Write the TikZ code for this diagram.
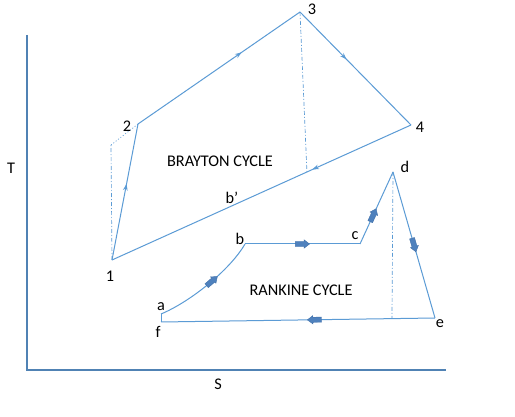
\documentclass[tikz,border=0pt]{standalone}
\usepackage{fontspec}
\setmainfont{Carlito}
\usetikzlibrary{arrows.meta,decorations.markings,calc}
\definecolor{cyc}{RGB}{91,155,213}
\definecolor{axc}{RGB}{80,130,180}
\definecolor{afill}{RGB}{79,129,189}
\definecolor{aline}{RGB}{65,113,170}
\tikzset{
  cycleline/.style={draw=cyc,line width=0.75pt},
  axisline/.style={draw=axc,line width=0.9pt},
  dashdot/.style={draw=cyc,line width=0.5pt,dash pattern=on 3pt off 1.5pt on 0.75pt off 1.5pt},
  dotline/.style={draw=cyc,line width=0.5pt,dash pattern=on 0.75pt off 1.5pt},
  smallarr/.style={postaction={decorate,decoration={markings,
      mark=at position #1 with {\arrow[cyc]{Stealth[length=5pt,width=3.5pt]}}}}},
  blockarr/.style={postaction={decorate,decoration={markings,
      mark=at position #1 with {\filldraw[fill=afill,draw=aline,line width=0.3pt]
        (-5.3pt,-1.9pt) -- (1.2pt,-1.9pt) -- (1.2pt,-3.1pt) -- (5.3pt,0pt) --
        (1.2pt,3.1pt) -- (1.2pt,1.9pt) -- (-5.3pt,1.9pt) -- cycle;}}}},
  lbl/.style={inner sep=0pt,font=\fontsize{12.2pt}{14pt}\selectfont,text=black},
}
\begin{document}
\begin{tikzpicture}[x=0.75pt,y=-0.75pt]
  \useasboundingbox[fill=white] (0,0) rectangle (515,417);
  % axes
  \coordinate (o) at (27,370);
  \coordinate (ytop) at (27,35);
  \coordinate (xend) at (446,370);
  \draw[axisline] (ytop) -- (o) -- (xend);
  \node[lbl] (T) at (11,168) {T};
  \node[lbl] (S) at (218,384) {S};
  % Brayton points
  \coordinate (p1) at (112,260);
  \coordinate (p2) at (138,124);
  \coordinate (p3) at (300,12);
  \coordinate (p4) at (411,125);
  \coordinate (q) at (111,145);
  \coordinate (bp) at ($(p4)!0.348!(p1)$);
  \draw[cycleline,smallarr=0.56] (p1) -- (p2);
  \draw[cycleline,smallarr=0.64] (p2) -- (p3);
  \draw[cycleline,smallarr=0.42] (p3) -- (p4);
  \draw[cycleline,smallarr=0.33] (p4) -- (p1);
  \draw[dashdot] (p1) -- (q);
  \draw[dotline] (q) -- (p2);
  \draw[dashdot] (p3) -- (bp);
  \node[lbl] (l1) at (110,276) {1};
  \node[lbl] (l2) at (127,126) {2};
  \node[lbl] (l3) at (312,9) {3};
  \node[lbl] (l4) at (420,127) {4};
  \node[lbl] (lbp) at (232,198) {b’};
  \node[lbl] (bray) at (220,161) {BRAYTON CYCLE};
  % Rankine points
  \coordinate (a) at (161,314);
  \coordinate (b) at (245,244);
  \coordinate (c) at (360,244);
  \coordinate (d) at (393,172);
  \coordinate (e) at (435,318);
  \coordinate (f) at (161,322);
  \coordinate (dd) at ($(e)!0.157!(f)$);
  \draw[cycleline,blockarr=0.55] (a) .. controls (190,302) and (230,270) .. (b);
  \draw[cycleline,blockarr=0.5] (b) -- (c);
  \draw[cycleline,blockarr=0.4] (c) -- (d);
  \draw[cycleline,blockarr=0.5] (d) -- (e);
  \draw[cycleline,blockarr=0.44] (e) -- (f);
  \draw[cycleline] (f) -- (a);
  \draw[dashdot] (d) -- (dd);
  \node[lbl] (la) at (161,307) {a};
  \node[lbl] (lb) at (240,239) {b};
  \node[lbl] (lc) at (355,236) {c};
  \node[lbl] (ld) at (405,167) {d};
  \node[lbl] (le) at (440,324) {e};
  \node[lbl] (lf) at (158,332) {f};
  \node[lbl] (rank) at (301,290) {RANKINE CYCLE};
\end{tikzpicture}
\end{document}
